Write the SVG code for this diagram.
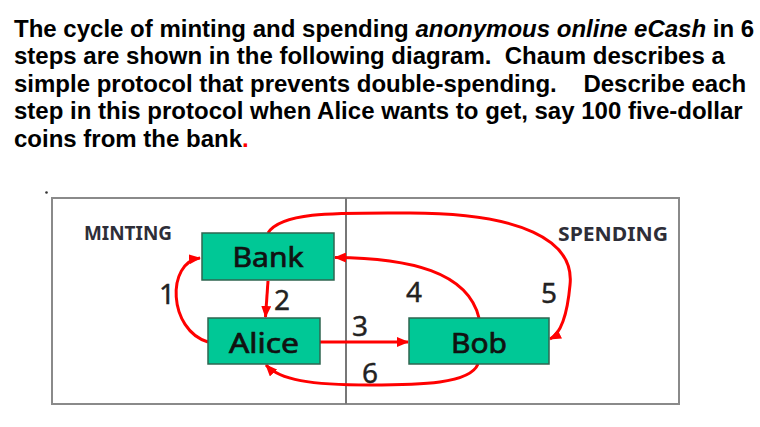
<svg xmlns="http://www.w3.org/2000/svg" width="760" height="427" viewBox="0 0 760 427">
<style>
.t{font-family:"Liberation Sans",Arial,sans-serif;font-weight:bold;font-size:24px;fill:#000;white-space:pre}
.it{font-style:italic}
.sec{font-family:"Noto Sans","Open Sans",sans-serif;font-weight:bold;font-size:19px;fill:#2e2e38}
.node rect{fill:#00C896;stroke:#2f6650;stroke-width:1.5}
.node text{font-family:"Noto Sans","Open Sans",sans-serif;font-size:28px;fill:#111;stroke:#111;stroke-width:0.7;text-anchor:middle}
.num{font-family:"Noto Sans","Open Sans",sans-serif;font-size:28px;fill:#222;stroke:#222;stroke-width:0.4}
.conn path{fill:none;stroke:#FF0000;stroke-width:3}
</style>
<defs>
<marker id="ah" markerUnits="userSpaceOnUse" markerWidth="12" markerHeight="10" refX="11" refY="5" orient="auto">
<path d="M0,0 L12,5 L0,10 Z" fill="#FF0000"/>
</marker>
</defs>
<rect width="760" height="427" fill="#fff"/>
<g id="title">
<text class="t" x="14" y="36.5">The cycle of minting and spending <tspan class="it">anonymous online eCash</tspan> in 6</text>
<text class="t" x="14" y="64.1">steps are shown in the following diagram.  Chaum describes a</text>
<text class="t" x="14" y="91.7">simple protocol that prevents double-spending.    Describe each</text>
<text class="t" x="14" y="119.3">step in this protocol when Alice wants to get, say 100 five-dollar</text>
<text class="t" x="14" y="146.9">coins from the bank<tspan fill="#FF0000">.</tspan></text>
</g>
<g id="frame">
<circle cx="46.5" cy="192.5" r="1.3" fill="#333"/>
<rect x="52" y="198" width="627" height="206" fill="none" stroke="#8a8a8a" stroke-width="2"/>
<line x1="346" y1="198" x2="346" y2="404" stroke="#777" stroke-width="2"/>
<text class="sec" x="84" y="240" textLength="88" lengthAdjust="spacingAndGlyphs">MINTING</text>
<text class="sec" x="558" y="240.5" textLength="110" lengthAdjust="spacingAndGlyphs">SPENDING</text>
</g>
<g class="conn" id="connectors">
<path d="M208,342 C168,330 166,262 200,258" marker-end="url(#ah)"/>
<path d="M268,281 L265.5,317" marker-end="url(#ah)"/>
<path d="M320,342 L408,342" marker-end="url(#ah)"/>
<path d="M479,318 C468,272 410,258 335,257.5" marker-end="url(#ah)"/>
<path d="M268,233 C282,211 340,213 410,213 C520,213 575,240 570,285 C567,318 560,334 550,339" marker-end="url(#ah)"/>
<path d="M478,364 C470,384 420,385 370,385 C310,385 280,380 266,365" marker-end="url(#ah)"/>
</g>
<g id="labels">
<text class="num" x="159" y="304">1</text>
<text class="num" x="274" y="310">2</text>
<text class="num" x="352" y="336">3</text>
<text class="num" x="406" y="302">4</text>
<text class="num" x="541" y="303">5</text>
<text class="num" x="362" y="383">6</text>
</g>
<g class="node" id="bank">
<rect x="202" y="233" width="132" height="47"/>
<text x="268" y="267" textLength="71" lengthAdjust="spacingAndGlyphs">Bank</text>
</g>
<g class="node" id="alice">
<rect x="208" y="318" width="112" height="46"/>
<text x="264" y="352.5" textLength="70" lengthAdjust="spacingAndGlyphs">Alice</text>
</g>
<g class="node" id="bob">
<rect x="409" y="318" width="140" height="46"/>
<text x="479" y="352.5" textLength="56" lengthAdjust="spacingAndGlyphs">Bob</text>
</g>
</svg>
